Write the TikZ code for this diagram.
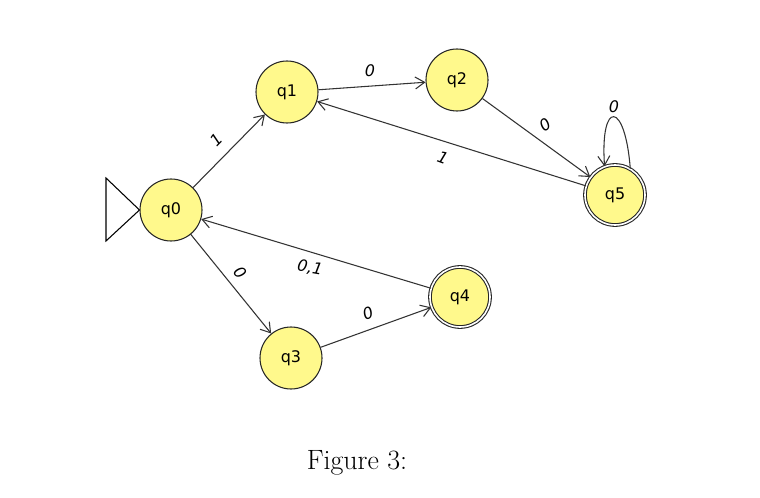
\documentclass[tikz,border=0pt]{standalone}
\usepackage{fontspec}
\setmainfont{Latin Modern Roman}
\newfontfamily\nodefont{DejaVu Sans}
\usetikzlibrary{arrows.meta}
\begin{document}
\begin{tikzpicture}[x=0.0264cm,y=-0.0264cm,
  st/.style={circle,draw=black!85,thick,fill=yellow!45,minimum size=62*0.0264cm,inner sep=0pt,font=\nodefont\fontsize{12}{14}\selectfont},
  acc/.style={st,double,double distance=1.2pt,minimum size=60*0.0264cm},
  tr/.style={draw=black!80,thick,-{Straight Barb[length=7pt,width=9pt]}},
  lb/.style={font=\nodefont\fontsize{12}{14}\selectfont\itshape}]
\useasboundingbox (0,0) rectangle (760,498);
\node[st] (q0) at (171,210) {q0};
\node[st] (q1) at (287,92) {q1};
\node[st] (q2) at (457,80) {q2};
\node[acc] (q5) at (615,195) {q5};
\node[acc] (q4) at (460,297) {q4};
\node[st] (q3) at (291,358) {q3};
\coordinate (ia) at (106,178);
\coordinate (ib) at (106,241);
\draw[thick] (q0.west) -- (ia) -- (ib) -- cycle;
\draw[tr] (q0) -- (q1);
\draw[tr] (q1) -- (q2);
\draw[tr] (q2) -- (q5);
\draw[tr] (q5) -- (q1);
\draw[tr] (q5.60) .. controls (625,100) and (600,100) .. (q5.110);
\draw[tr] (q0) -- (q3);
\draw[tr] (q3) -- (q4);
\draw[tr] (q4) -- (q0);
\node[lb,rotate=45] (l1) at (216,140) {1};
\node[lb] (l2) at (370,71) {0};
\node[lb,rotate=35] (l3) at (545,125) {0};
\node[lb,rotate=-20] (l4) at (443,158) {1};
\node[lb] (l5) at (614,107) {0};
\node[lb,rotate=-50] (l6) at (240,273) {0};
\node[lb,rotate=-10] (l7) at (310,268) {0,1};
\node[lb,rotate=20] (l8) at (368,313) {0};
\node[font=\fontsize{21}{24}\selectfont] (cap) at (357,463) {Figure 3:};
\end{tikzpicture}
\end{document}
